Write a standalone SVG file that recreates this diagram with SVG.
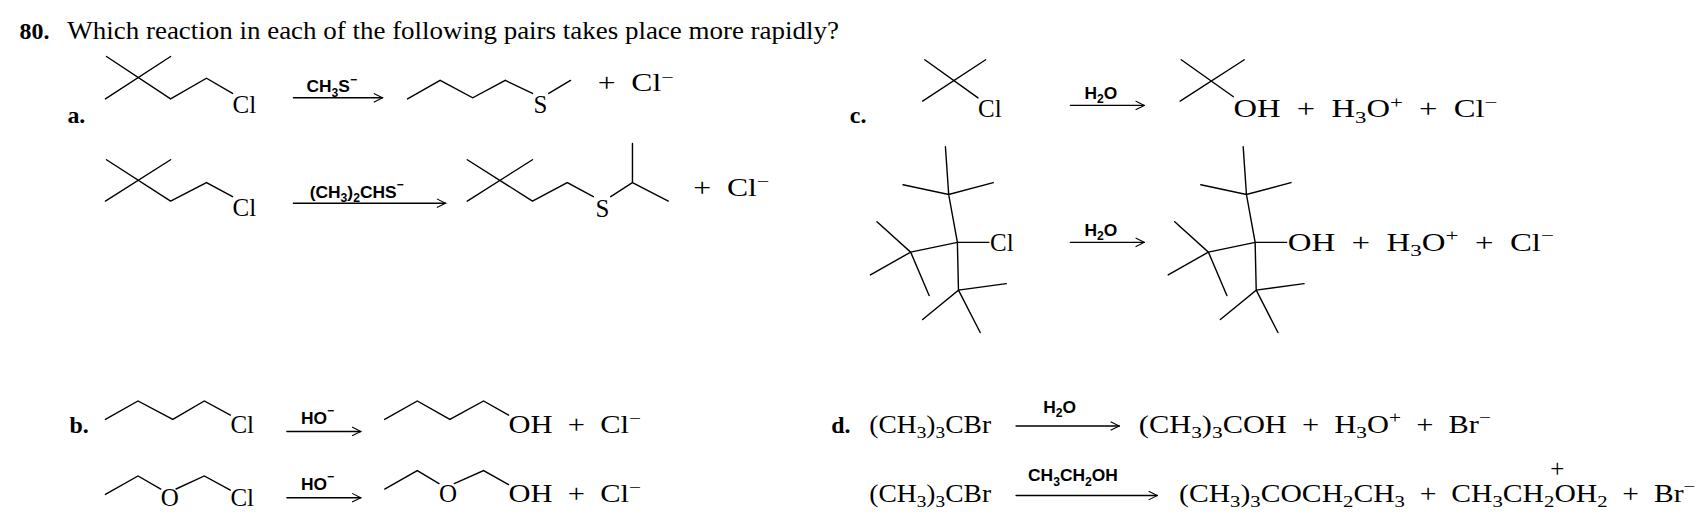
<svg xmlns="http://www.w3.org/2000/svg" width="1704" height="522" viewBox="0 0 1704 522">
<style>
.b{stroke:#000;stroke-width:1.3;fill:none;stroke-linecap:round}
.t{font-family:"Liberation Serif",serif;font-size:23px;fill:#000;white-space:pre}
.r{font-family:"Liberation Sans",sans-serif;font-size:16px;font-weight:bold;fill:#000}
.s{font-size:70%}
.hd{font-family:"Liberation Serif",serif;font-size:22px;font-weight:bold}
</style>
<defs>
<marker id="ah" markerWidth="10" markerHeight="10" refX="9" refY="5" orient="auto" markerUnits="userSpaceOnUse"><path d="M1,1 L9,5 L1,9" fill="none" stroke="#000" stroke-width="1"/></marker>
<g id="big">
<path class="b" d="M870,135 L873,179 L881,223 L882,267 M831,170 L873,179 L914,168 M881,223 L838,232 M807,204 L838,232 L801,253 M838,232 L855,272 M926,261 L882,267 L849,294 M882,267 L902,306"/>
</g>
</defs>
<rect width="1704" height="522" fill="#fff"/>
<g transform="scale(1.0867)">
<g id="title"><text x="18" y="36" class="hd">80.</text><text x="62" y="36" class="t" textLength="710" lengthAdjust="spacingAndGlyphs">Which reaction in each of the following pairs takes place more rapidly?</text></g>
<g id="labels">
<text x="62" y="113" class="hd">a.</text>
<text x="782" y="113" class="hd" font-size="20">c.</text>
<text x="64" y="398" class="hd">b.</text>
<text x="765" y="398" class="hd">d.</text>
</g>
<g id="a1">
<path class="b" d="M98,52 L157,91 M157,52 L97,91 M157,91 L190,72 L214,86"/>
<text x="214" y="104" class="t">Cl</text>
<path class="b" d="M375,91 L405,74 L435,90 L465,74 L490,86 M505,86 L525,74"/>
<text x="491" y="104" class="t" font-size="20">S</text>
<text x="550" y="84" class="t" textLength="70" lengthAdjust="spacingAndGlyphs">+  Cl<tspan dy="-8" class="s">−</tspan></text>
</g>
<g id="a2">
<path class="b" d="M98,147 L157,185 M157,147 L97,185 M157,185 L190,168 L214,181"/>
<text x="214" y="199" class="t">Cl</text>
<path class="b" d="M430,147 L490,185 M490,147 L430,185 M490,185 L522,168 L546,181 M562,181 L582,168 L582,132 M582,168 L615,185"/>
<text x="548" y="200" class="t" font-size="20">S</text>
<text x="638" y="180" class="t" textLength="70" lengthAdjust="spacingAndGlyphs">+  Cl<tspan dy="-8" class="s">−</tspan></text>
</g>
<g id="c1">
<path class="b" d="M851,55 L900,90 M907,55 L849,93"/>
<text x="900" y="108" class="t">Cl</text>
<path class="b" d="M1087,55 L1135,89 M1145,55 L1086,93"/>
<text x="1135" y="108" class="t" textLength="243" lengthAdjust="spacingAndGlyphs">OH  +  H<tspan dy="5" class="s">3</tspan><tspan dy="-5">O</tspan><tspan dy="-9" class="s">+</tspan><tspan dy="9">  +  Cl</tspan><tspan dy="-9" class="s">−</tspan></text>
</g>
<g id="c2">
<use href="#big"/>
<path class="b" d="M881,223 L910,223"/>
<text x="911" y="231" class="t">Cl</text>
<use href="#big" transform="translate(274,0)"/>
<path class="b" d="M1155,223 L1184,223"/>
<text x="1185" y="231" class="t" textLength="245" lengthAdjust="spacingAndGlyphs">OH  +  H<tspan dy="5" class="s">3</tspan><tspan dy="-5">O</tspan><tspan dy="-9" class="s">+</tspan><tspan dy="9">  +  Cl</tspan><tspan dy="-9" class="s">−</tspan></text>
</g>
<g id="b1">
<path class="b" d="M97,386 L127,369 L159,386 L188,369 L212,382"/>
<text x="212" y="398" class="t">Cl</text>
<path class="b" d="M354,386 L384,369 L414,386 L445,369 L468,382"/>
<text x="468" y="398" class="t" textLength="122" lengthAdjust="spacingAndGlyphs">OH  +  Cl<tspan dy="-8" class="s">−</tspan></text>
</g>
<g id="b2">
<path class="b" d="M97,455 L127,438 L148,450 M162,450 L188,438 L212,451"/>
<text x="148" y="466" class="t">O</text>
<text x="212" y="466" class="t">Cl</text>
<path class="b" d="M354,450 L384,433 L404,445 M418,445 L445,433 L468,446"/>
<text x="404" y="462" class="t">O</text>
<text x="468" y="462" class="t" textLength="122" lengthAdjust="spacingAndGlyphs">OH  +  Cl<tspan dy="-8" class="s">−</tspan></text>
</g>
<g id="d1">
<text x="800" y="398" class="t" textLength="112" lengthAdjust="spacingAndGlyphs">(CH<tspan dy="5" class="s">3</tspan><tspan dy="-5">)</tspan><tspan dy="5" class="s">3</tspan><tspan dy="-5">CBr</tspan></text>
<text x="1048" y="398" class="t" textLength="324" lengthAdjust="spacingAndGlyphs">(CH<tspan dy="5" class="s">3</tspan><tspan dy="-5">)</tspan><tspan dy="5" class="s">3</tspan><tspan dy="-5">COH  +  H</tspan><tspan dy="5" class="s">3</tspan><tspan dy="-5">O</tspan><tspan dy="-9" class="s">+</tspan><tspan dy="9">  +  Br</tspan><tspan dy="-9" class="s">−</tspan></text>
</g>
<g id="d2">
<text x="800" y="462" class="t" textLength="112" lengthAdjust="spacingAndGlyphs">(CH<tspan dy="5" class="s">3</tspan><tspan dy="-5">)</tspan><tspan dy="5" class="s">3</tspan><tspan dy="-5">CBr</tspan></text>
<text x="1085" y="462" class="t" textLength="475" lengthAdjust="spacingAndGlyphs">(CH<tspan dy="5" class="s">3</tspan><tspan dy="-5">)</tspan><tspan dy="5" class="s">3</tspan><tspan dy="-5">COCH</tspan><tspan dy="5" class="s">2</tspan><tspan dy="-5">CH</tspan><tspan dy="5" class="s">3</tspan><tspan dy="-5">  +  CH</tspan><tspan dy="5" class="s">3</tspan><tspan dy="-5">CH</tspan><tspan dy="5" class="s">2</tspan><tspan dy="-5">OH</tspan><tspan dy="5" class="s">2</tspan><tspan dy="-5">  +  Br</tspan><tspan dy="-9" class="s">−</tspan></text>
<text x="1433" y="439" class="t" font-size="15" text-anchor="middle">+</text>
</g>
<g id="connectors">
<path class="b" d="M270,90 L352,90" marker-end="url(#ah)"/>
<text x="282" y="85" class="r">CH<tspan dy="4" class="s">3</tspan><tspan dy="-4">S</tspan><tspan dy="-8" class="s">−</tspan></text>
<path class="b" d="M270,187 L410,187" marker-end="url(#ah)"/>
<text x="285" y="182" class="r">(CH<tspan dy="4" class="s">3</tspan><tspan dy="-4">)</tspan><tspan dy="4" class="s">2</tspan><tspan dy="-4">CHS</tspan><tspan dy="-8" class="s">−</tspan></text>
<path class="b" d="M985,97 L1053,97" marker-end="url(#ah)"/>
<text x="998" y="91" class="r">H<tspan dy="4" class="s">2</tspan><tspan dy="-4">O</tspan></text>
<path class="b" d="M985,223 L1053,223" marker-end="url(#ah)"/>
<text x="998" y="217" class="r">H<tspan dy="4" class="s">2</tspan><tspan dy="-4">O</tspan></text>
<path class="b" d="M264,397 L332,397" marker-end="url(#ah)"/>
<text x="277" y="390" class="r">HO<tspan dy="-8" class="s">−</tspan></text>
<path class="b" d="M264,458 L332,458" marker-end="url(#ah)"/>
<text x="277" y="451" class="r">HO<tspan dy="-8" class="s">−</tspan></text>
<path class="b" d="M935,392 L1030,392" marker-end="url(#ah)"/>
<text x="960" y="380" class="r">H<tspan dy="4" class="s">2</tspan><tspan dy="-4">O</tspan></text>
<path class="b" d="M935,456 L1065,456" marker-end="url(#ah)"/>
<text x="946" y="443" class="r">CH<tspan dy="4" class="s">3</tspan><tspan dy="-4">CH</tspan><tspan dy="4" class="s">2</tspan><tspan dy="-4">OH</tspan></text>
</g>
</g>
</svg>
